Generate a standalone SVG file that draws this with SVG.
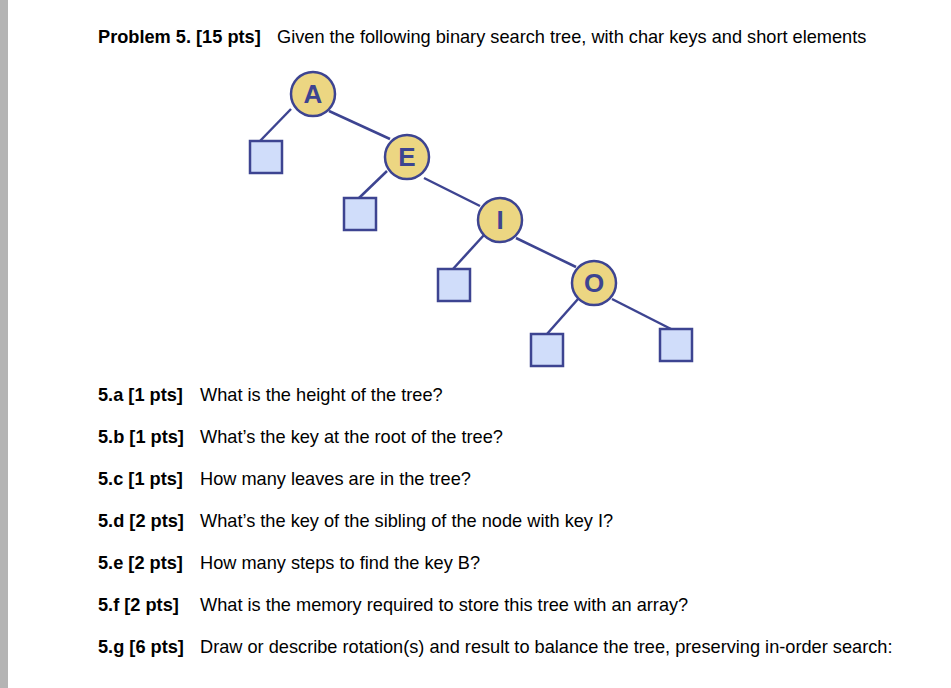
<svg xmlns="http://www.w3.org/2000/svg" width="951" height="688" viewBox="0 0 951 688">
<style>
text{font-family:"Liberation Sans",Arial,sans-serif;font-size:18.2px;fill:#000}
.b{font-weight:bold}
.n circle{fill:#ecd682;stroke:#3d4491;stroke-width:2.5}
.n text{font-size:26px;font-weight:bold;fill:#3d4491;text-anchor:middle}
.l rect{fill:#d0ddfa;stroke:#3d4491;stroke-width:2.5}
#edges line{stroke:#3d4491;stroke-width:2.5}
</style>
<rect width="951" height="688" fill="#fff"/>
<rect x="0" y="0" width="8" height="688" fill="#b4b4b4"/>
<g id="edges">
<line x1="291" y1="109" x2="260" y2="141"/>
<line x1="329" y1="111" x2="390" y2="139"/>
<line x1="387" y1="171" x2="359" y2="198"/>
<line x1="424" y1="178" x2="480" y2="206"/>
<line x1="484" y1="235" x2="453" y2="269"/>
<line x1="516" y1="238" x2="576" y2="267"/>
<line x1="578" y1="299" x2="547" y2="334"/>
<line x1="612" y1="299" x2="671" y2="329"/>
</g>
<g id="nA" class="n"><circle cx="313" cy="94" r="22"/><text x="313" y="103">A</text></g>
<g id="nE" class="n"><circle cx="407" cy="157" r="22"/><text x="407" y="166">E</text></g>
<g id="nI" class="n"><circle cx="500" cy="220" r="22"/><text x="500" y="229">I</text></g>
<g id="nO" class="n"><circle cx="594" cy="283" r="22"/><text x="594" y="292">O</text></g>
<g id="leaf1" class="l"><rect x="250" y="141" width="32" height="32"/></g>
<g id="leaf2" class="l"><rect x="344" y="198" width="32" height="32"/></g>
<g id="leaf3" class="l"><rect x="438" y="269" width="32" height="32"/></g>
<g id="leaf4" class="l"><rect x="531" y="334" width="32" height="32"/></g>
<g id="leaf5" class="l"><rect x="660" y="329" width="32" height="32"/></g>
<text x="98" y="43"><tspan class="b">Problem 5. [15 pts]</tspan><tspan x="277">Given the following binary search tree, with char keys and short elements</tspan></text>
<text x="98" y="401" class="b">5.a [1 pts]</text>
<text x="98" y="443" class="b">5.b [1 pts]</text>
<text x="98" y="485" class="b">5.c [1 pts]</text>
<text x="98" y="527" class="b">5.d [2 pts]</text>
<text x="98" y="569" class="b">5.e [2 pts]</text>
<text x="98" y="611" class="b">5.f  [2 pts]</text>
<text x="98" y="653" class="b">5.g [6 pts]</text>
<text x="200" y="401">What is the height of the tree?</text>
<text x="200" y="443">What’s the key at the root of the tree?</text>
<text x="200" y="485">How many leaves are in the tree?</text>
<text x="200" y="527">What’s the key of the sibling of the node with key I?</text>
<text x="200" y="569">How many steps to find the key B?</text>
<text x="200" y="611">What is the memory required to store this tree with an array?</text>
<text x="200" y="653">Draw or describe rotation(s) and result to balance the tree, preserving in-order search:</text>
</svg>
